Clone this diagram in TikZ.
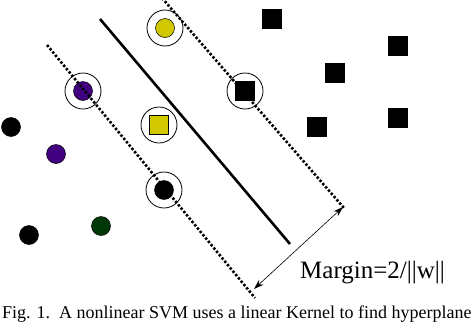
\documentclass[tikz,border=0pt]{standalone}
\usepackage{fontspec}
\setmainfont{Liberation Serif}
\usepackage{tikz}
\usetikzlibrary{positioning,arrows.meta}
\definecolor{dotyellow}{RGB}{210,200,0}
\definecolor{dotpurple}{RGB}{64,0,128}
\definecolor{dotgreen}{RGB}{0,56,8}
\tikzset{
  pt/.style={circle, draw=black, line width=0.5pt, minimum size=19pt, inner sep=0pt},
  box/.style={rectangle, draw=black, fill=black, line width=0.8pt, minimum size=18.5pt, inner sep=0pt},
  ring/.style={circle, draw=black, line width=0.8pt, minimum size=36pt, inner sep=0pt},
  margin/.style={line width=2.6pt, dash pattern=on 2.4pt off 1.9pt}
}

\begin{document}
\begin{tikzpicture}[x=1pt, y=-1pt]
      \useasboundingbox (0,0) rectangle (474,327);
      % class one
      \node[pt, fill=black]     (b1) at (11,127)  {};
      \node[pt, fill=dotpurple] (p1) at (56,154)  {};
      \node[pt, fill=black]     (b2) at (29,235)  {};
      \node[pt, fill=dotgreen]  (g1) at (101,226) {};
      % class two
      \node[box] (s1) at (272,19)  {};
      \node[box] (s2) at (398,46)  {};
      \node[box] (s3) at (335,73)  {};
      \node[box] (s4) at (317,127) {};
      \node[box] (s5) at (398,118) {};
      % support vectors
      \node[pt, fill=dotpurple]  (sv1) at (83,91)   {};
      \node[pt, fill=dotyellow]  (sv2) at (165,28)  {};
      \node[box, fill=dotyellow] (sv3) at (159,125) {};
      \node[pt, fill=black]      (sv4) at (164,190) {};
      \node[box]                 (sv5) at (245,91)  {};
      \node[ring] (r1) at (sv1) {};
      \node[ring] (r2) at (sv2) {};
      \node[ring] (r3) at (sv3) {};
      \node[ring] (r4) at (sv4) {};
      \node[ring] (r5) at (sv5) {};
      % hyperplane and margins
      \coordinate (h1) at (100,19);
      \coordinate (h2) at (290,244);
      \coordinate (m1) at (47,45);
      \coordinate (m2) at (255,298);
      \coordinate (n1) at (162,-2);
      \coordinate (n2) at (344,208);
      \draw[line width=2.6pt] (h1) -- (h2);
      \draw[margin] (m1) -- (m2);
      \draw[margin] (n1) -- (n2);
      \coordinate (a1) at (254,289);
      \coordinate (a2) at (343,207);
      \draw[{Stealth[length=10pt,width=6.5pt]}-{Stealth[length=10pt,width=6.5pt]}, line width=0.6pt] (a1) -- (a2);
      \node[font=\fontsize{25}{29}\selectfont, anchor=base west, inner sep=0pt] (mlabel) at (300,278.3) {Margin=2/||w||};
      \node[font=\fontsize{18}{22}\selectfont, anchor=base west, inner sep=0pt] (caption) at (2,318.3) {Fig. 1.\ \ A nonlinear SVM uses a linear Kernel to find hyperplane};
    \end{tikzpicture}
\end{document}
